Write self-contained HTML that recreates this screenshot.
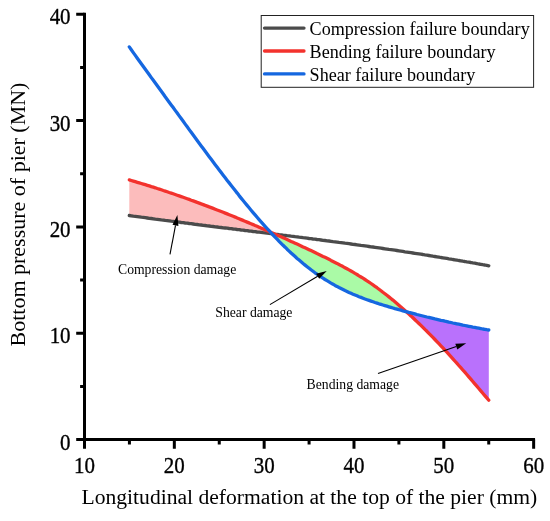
<!DOCTYPE html>
<html><head><meta charset="utf-8"><title>Failure boundaries</title>
<style>
html,body{margin:0;padding:0;background:#fff;}
svg{display:block;}
text{font-family:"Liberation Serif",serif;fill:#000;}
</style></head><body>
<svg width="550" height="521" viewBox="0 0 550 521">
<rect width="550" height="521" fill="#fff"/>
<path d="M129.3,179.9 L131.1,180.5 L133.0,181.0 L134.8,181.5 L136.7,182.1 L138.5,182.6 L140.4,183.2 L142.2,183.8 L144.1,184.3 L145.9,184.9 L147.8,185.5 L149.6,186.0 L151.4,186.6 L153.3,187.2 L155.1,187.8 L157.0,188.4 L158.8,189.0 L160.7,189.6 L162.5,190.2 L164.4,190.8 L166.2,191.4 L168.1,192.1 L169.9,192.7 L171.8,193.3 L173.6,193.9 L175.4,194.6 L177.3,195.2 L179.1,195.9 L181.0,196.5 L182.8,197.2 L184.7,197.8 L186.5,198.5 L188.4,199.1 L190.2,199.8 L192.1,200.5 L193.9,201.1 L195.7,201.8 L197.6,202.5 L199.4,203.2 L201.3,203.9 L203.1,204.6 L205.0,205.3 L206.8,206.0 L208.7,206.7 L210.5,207.4 L212.4,208.1 L214.2,208.8 L216.0,209.5 L217.9,210.2 L219.7,211.0 L221.6,211.7 L223.4,212.4 L225.3,213.2 L227.1,213.9 L229.0,214.6 L230.8,215.4 L232.7,216.1 L234.5,216.9 L236.3,217.6 L238.2,218.4 L240.0,219.2 L241.9,219.9 L243.7,220.7 L245.6,221.5 L247.4,222.2 L249.3,223.0 L251.1,223.8 L253.0,224.6 L254.8,225.4 L256.7,226.1 L258.5,226.9 L260.3,227.7 L262.2,228.5 L264.0,229.3 L265.9,230.1 L267.7,230.9 L269.6,231.7 L271.4,232.5 L273.3,233.4 L275.1,234.2 L275.1,234.2 L273.3,233.9 L271.4,233.7 L269.6,233.5 L267.7,233.3 L265.9,233.0 L264.0,232.8 L262.2,232.6 L260.3,232.3 L258.5,232.1 L256.7,231.9 L254.8,231.7 L253.0,231.4 L251.1,231.2 L249.3,231.0 L247.4,230.8 L245.6,230.5 L243.7,230.3 L241.9,230.1 L240.0,229.8 L238.2,229.6 L236.3,229.4 L234.5,229.2 L232.7,228.9 L230.8,228.7 L229.0,228.5 L227.1,228.2 L225.3,228.0 L223.4,227.8 L221.6,227.6 L219.7,227.3 L217.9,227.1 L216.0,226.9 L214.2,226.6 L212.4,226.4 L210.5,226.2 L208.7,225.9 L206.8,225.7 L205.0,225.5 L203.1,225.3 L201.3,225.0 L199.4,224.8 L197.6,224.6 L195.7,224.3 L193.9,224.1 L192.1,223.8 L190.2,223.6 L188.4,223.4 L186.5,223.1 L184.7,222.9 L182.8,222.7 L181.0,222.4 L179.1,222.2 L177.3,222.0 L175.4,221.7 L173.6,221.5 L171.8,221.2 L169.9,221.0 L168.1,220.8 L166.2,220.5 L164.4,220.3 L162.5,220.0 L160.7,219.8 L158.8,219.5 L157.0,219.3 L155.1,219.0 L153.3,218.8 L151.4,218.5 L149.6,218.3 L147.8,218.0 L145.9,217.8 L144.1,217.5 L142.2,217.3 L140.4,217.0 L138.5,216.8 L136.7,216.5 L134.8,216.3 L133.0,216.0 L131.1,215.8 L129.3,215.5Z" fill="#fcbcbc"/>
<path d="M270.4,232.1 L272.1,232.8 L273.8,233.6 L275.5,234.4 L277.2,235.1 L279.0,235.9 L280.7,236.7 L282.4,237.4 L284.1,238.2 L285.8,239.0 L287.6,239.8 L289.3,240.5 L291.0,241.3 L292.7,242.1 L294.4,242.9 L296.2,243.7 L297.9,244.5 L299.6,245.3 L301.3,246.1 L303.0,246.8 L304.8,247.6 L306.5,248.4 L308.2,249.3 L309.9,250.1 L311.6,250.9 L313.4,251.7 L315.1,252.5 L316.8,253.3 L318.5,254.2 L320.2,255.0 L322.0,255.8 L323.7,256.7 L325.4,257.5 L327.1,258.4 L328.8,259.3 L330.6,260.1 L332.3,261.0 L334.0,261.9 L335.7,262.8 L337.4,263.7 L339.2,264.6 L340.9,265.5 L342.6,266.4 L344.3,267.3 L346.0,268.3 L347.8,269.2 L349.5,270.2 L351.2,271.2 L352.9,272.2 L354.6,273.2 L356.4,274.2 L358.1,275.2 L359.8,276.3 L361.5,277.3 L363.2,278.4 L365.0,279.5 L366.7,280.6 L368.4,281.8 L370.1,282.9 L371.8,284.1 L373.6,285.3 L375.3,286.5 L377.0,287.8 L378.7,289.0 L380.4,290.3 L382.2,291.6 L383.9,292.9 L385.6,294.3 L387.3,295.6 L389.0,297.0 L390.8,298.4 L392.5,299.8 L394.2,301.2 L395.9,302.6 L397.7,304.1 L399.4,305.6 L401.1,307.1 L402.8,308.6 L404.5,310.1 L406.3,311.7 L406.3,311.7 L404.5,311.2 L402.8,310.7 L401.1,310.3 L399.4,309.8 L397.7,309.3 L395.9,308.8 L394.2,308.4 L392.5,307.9 L390.8,307.4 L389.0,306.9 L387.3,306.4 L385.6,305.8 L383.9,305.3 L382.2,304.8 L380.4,304.3 L378.7,303.7 L377.0,303.2 L375.3,302.6 L373.6,302.0 L371.8,301.4 L370.1,300.8 L368.4,300.2 L366.7,299.6 L365.0,299.0 L363.2,298.3 L361.5,297.7 L359.8,297.0 L358.1,296.3 L356.4,295.6 L354.6,294.9 L352.9,294.1 L351.2,293.4 L349.5,292.6 L347.8,291.8 L346.0,291.0 L344.3,290.2 L342.6,289.3 L340.9,288.5 L339.2,287.6 L337.4,286.7 L335.7,285.7 L334.0,284.8 L332.3,283.8 L330.6,282.8 L328.8,281.8 L327.1,280.8 L325.4,279.7 L323.7,278.6 L322.0,277.5 L320.2,276.4 L318.5,275.2 L316.8,274.0 L315.1,272.8 L313.4,271.5 L311.6,270.3 L309.9,269.0 L308.2,267.6 L306.5,266.3 L304.8,264.9 L303.0,263.5 L301.3,262.0 L299.6,260.6 L297.9,259.1 L296.2,257.6 L294.4,256.0 L292.7,254.5 L291.0,252.9 L289.3,251.3 L287.6,249.6 L285.8,248.0 L284.1,246.3 L282.4,244.6 L280.7,242.9 L279.0,241.1 L277.2,239.4 L275.5,237.6 L273.8,235.8 L272.1,233.9 L270.4,232.1Z" fill="#aafaa6"/>
<path d="M406.3,311.7 L407.3,311.9 L408.3,312.2 L409.4,312.5 L410.4,312.8 L411.5,313.0 L412.5,313.3 L413.6,313.6 L414.6,313.9 L415.7,314.1 L416.7,314.4 L417.7,314.7 L418.8,314.9 L419.8,315.2 L420.9,315.5 L421.9,315.7 L423.0,316.0 L424.0,316.2 L425.1,316.5 L426.1,316.8 L427.1,317.0 L428.2,317.3 L429.2,317.5 L430.3,317.8 L431.3,318.0 L432.4,318.3 L433.4,318.5 L434.5,318.8 L435.5,319.0 L436.6,319.3 L437.6,319.5 L438.6,319.8 L439.7,320.0 L440.7,320.2 L441.8,320.5 L442.8,320.7 L443.9,321.0 L444.9,321.2 L446.0,321.4 L447.0,321.7 L448.0,321.9 L449.1,322.1 L450.1,322.4 L451.2,322.6 L452.2,322.8 L453.3,323.0 L454.3,323.3 L455.4,323.5 L456.4,323.7 L457.5,323.9 L458.5,324.2 L459.5,324.4 L460.6,324.6 L461.6,324.8 L462.7,325.0 L463.7,325.2 L464.8,325.5 L465.8,325.7 L466.9,325.9 L467.9,326.1 L468.9,326.3 L470.0,326.5 L471.0,326.7 L472.1,326.9 L473.1,327.1 L474.2,327.3 L475.2,327.5 L476.3,327.7 L477.3,327.9 L478.4,328.1 L479.4,328.3 L480.4,328.5 L481.5,328.7 L482.5,328.9 L483.6,329.1 L484.6,329.3 L485.7,329.5 L486.7,329.7 L487.8,329.9 L488.8,330.0 L488.8,400.3 L487.8,399.1 L486.7,397.8 L485.7,396.6 L484.6,395.3 L483.6,394.1 L482.5,392.9 L481.5,391.6 L480.4,390.4 L479.4,389.2 L478.4,387.9 L477.3,386.7 L476.3,385.5 L475.2,384.3 L474.2,383.0 L473.1,381.8 L472.1,380.6 L471.0,379.4 L470.0,378.2 L468.9,377.0 L467.9,375.8 L466.9,374.6 L465.8,373.4 L464.8,372.2 L463.7,371.0 L462.7,369.8 L461.6,368.6 L460.6,367.4 L459.5,366.2 L458.5,365.1 L457.5,363.9 L456.4,362.7 L455.4,361.6 L454.3,360.4 L453.3,359.2 L452.2,358.1 L451.2,356.9 L450.1,355.8 L449.1,354.7 L448.0,353.5 L447.0,352.4 L446.0,351.2 L444.9,350.1 L443.9,349.0 L442.8,347.9 L441.8,346.8 L440.7,345.7 L439.7,344.5 L438.6,343.4 L437.6,342.3 L436.6,341.3 L435.5,340.2 L434.5,339.1 L433.4,338.0 L432.4,336.9 L431.3,335.9 L430.3,334.8 L429.2,333.7 L428.2,332.7 L427.1,331.6 L426.1,330.6 L425.1,329.5 L424.0,328.5 L423.0,327.5 L421.9,326.4 L420.9,325.4 L419.8,324.4 L418.8,323.4 L417.7,322.4 L416.7,321.4 L415.7,320.4 L414.6,319.4 L413.6,318.4 L412.5,317.4 L411.5,316.4 L410.4,315.5 L409.4,314.5 L408.3,313.6 L407.3,312.6 L406.3,311.7Z" fill="#b971fc"/>
<g fill="none" stroke-linecap="round" stroke-linejoin="round">
<path d="M129.3,215.5 L131.3,215.8 L133.3,216.1 L135.3,216.3 L137.3,216.6 L139.3,216.9 L141.3,217.2 L143.3,217.4 L145.3,217.7 L147.3,218.0 L149.3,218.3 L151.3,218.5 L153.3,218.8 L155.3,219.1 L157.3,219.3 L159.3,219.6 L161.3,219.9 L163.3,220.1 L165.2,220.4 L167.2,220.6 L169.2,220.9 L171.2,221.2 L173.2,221.4 L175.2,221.7 L177.2,221.9 L179.2,222.2 L181.2,222.5 L183.2,222.7 L185.2,223.0 L187.2,223.2 L189.2,223.5 L191.2,223.7 L193.2,224.0 L195.2,224.3 L197.2,224.5 L199.2,224.8 L201.2,225.0 L203.2,225.3 L205.2,225.5 L207.2,225.8 L209.2,226.0 L211.2,226.3 L213.2,226.5 L215.2,226.8 L217.2,227.0 L219.2,227.3 L221.2,227.5 L223.2,227.8 L225.2,228.0 L227.2,228.2 L229.2,228.5 L231.2,228.7 L233.2,229.0 L235.2,229.2 L237.2,229.5 L239.1,229.7 L241.1,230.0 L243.1,230.2 L245.1,230.5 L247.1,230.7 L249.1,231.0 L251.1,231.2 L253.1,231.5 L255.1,231.7 L257.1,232.0 L259.1,232.2 L261.1,232.4 L263.1,232.7 L265.1,232.9 L267.1,233.2 L269.1,233.4 L271.1,233.7 L273.1,233.9 L275.1,234.2 L277.1,234.4 L279.1,234.7 L281.1,234.9 L283.1,235.2 L285.1,235.4 L287.1,235.7 L289.1,235.9 L291.1,236.2 L293.1,236.4 L295.1,236.7 L297.1,236.9 L299.1,237.2 L301.1,237.4 L303.1,237.7 L305.1,237.9 L307.1,238.2 L309.1,238.5 L311.0,238.7 L313.0,239.0 L315.0,239.2 L317.0,239.5 L319.0,239.7 L321.0,240.0 L323.0,240.3 L325.0,240.5 L327.0,240.8 L329.0,241.0 L331.0,241.3 L333.0,241.6 L335.0,241.8 L337.0,242.1 L339.0,242.4 L341.0,242.6 L343.0,242.9 L345.0,243.2 L347.0,243.4 L349.0,243.7 L351.0,244.0 L353.0,244.3 L355.0,244.5 L357.0,244.8 L359.0,245.1 L361.0,245.4 L363.0,245.6 L365.0,245.9 L367.0,246.2 L369.0,246.5 L371.0,246.8 L373.0,247.0 L375.0,247.3 L377.0,247.6 L379.0,247.9 L381.0,248.2 L382.9,248.5 L384.9,248.8 L386.9,249.1 L388.9,249.4 L390.9,249.6 L392.9,249.9 L394.9,250.2 L396.9,250.5 L398.9,250.8 L400.9,251.1 L402.9,251.4 L404.9,251.8 L406.9,252.1 L408.9,252.4 L410.9,252.7 L412.9,253.0 L414.9,253.3 L416.9,253.6 L418.9,253.9 L420.9,254.2 L422.9,254.5 L424.9,254.9 L426.9,255.2 L428.9,255.5 L430.9,255.8 L432.9,256.2 L434.9,256.5 L436.9,256.8 L438.9,257.1 L440.9,257.5 L442.9,257.8 L444.9,258.1 L446.9,258.4 L448.9,258.8 L450.9,259.1 L452.9,259.5 L454.8,259.8 L456.8,260.1 L458.8,260.5 L460.8,260.8 L462.8,261.2 L464.8,261.5 L466.8,261.9 L468.8,262.2 L470.8,262.5 L472.8,262.9 L474.8,263.2 L476.8,263.6 L478.8,264.0 L480.8,264.3 L482.8,264.7 L484.8,265.0 L486.8,265.4 L488.8,265.8" stroke="#4b4b4b" stroke-width="3.3"/>
<path d="M129.3,179.9 L131.3,180.5 L133.3,181.1 L135.3,181.7 L137.3,182.3 L139.3,182.9 L141.3,183.5 L143.3,184.1 L145.3,184.7 L147.3,185.3 L149.3,185.9 L151.3,186.6 L153.3,187.2 L155.3,187.8 L157.3,188.5 L159.3,189.1 L161.3,189.8 L163.3,190.5 L165.2,191.1 L167.2,191.8 L169.2,192.5 L171.2,193.1 L173.2,193.8 L175.2,194.5 L177.2,195.2 L179.2,195.9 L181.2,196.6 L183.2,197.3 L185.2,198.0 L187.2,198.7 L189.2,199.4 L191.2,200.2 L193.2,200.9 L195.2,201.6 L197.2,202.4 L199.2,203.1 L201.2,203.9 L203.2,204.6 L205.2,205.4 L207.2,206.1 L209.2,206.9 L211.2,207.6 L213.2,208.4 L215.2,209.2 L217.2,210.0 L219.2,210.7 L221.2,211.5 L223.2,212.3 L225.2,213.1 L227.2,213.9 L229.2,214.7 L231.2,215.5 L233.2,216.3 L235.2,217.1 L237.2,218.0 L239.1,218.8 L241.1,219.6 L243.1,220.4 L245.1,221.3 L247.1,222.1 L249.1,222.9 L251.1,223.8 L253.1,224.6 L255.1,225.5 L257.1,226.3 L259.1,227.2 L261.1,228.1 L263.1,228.9 L265.1,229.8 L267.1,230.7 L269.1,231.5 L271.1,232.4 L273.1,233.3 L275.1,234.2 L277.1,235.1 L279.1,235.9 L281.1,236.8 L283.1,237.7 L285.1,238.6 L287.1,239.5 L289.1,240.4 L291.1,241.4 L293.1,242.3 L295.1,243.2 L297.1,244.1 L299.1,245.0 L301.1,245.9 L303.1,246.9 L305.1,247.8 L307.1,248.7 L309.1,249.7 L311.0,250.6 L313.0,251.5 L315.0,252.5 L317.0,253.5 L319.0,254.4 L321.0,255.4 L323.0,256.4 L325.0,257.3 L327.0,258.3 L329.0,259.3 L331.0,260.4 L333.0,261.4 L335.0,262.4 L337.0,263.4 L339.0,264.5 L341.0,265.6 L343.0,266.6 L345.0,267.7 L347.0,268.8 L349.0,269.9 L351.0,271.0 L353.0,272.2 L355.0,273.4 L357.0,274.5 L359.0,275.8 L361.0,277.0 L363.0,278.2 L365.0,279.5 L367.0,280.8 L369.0,282.1 L371.0,283.5 L373.0,284.9 L375.0,286.3 L377.0,287.7 L379.0,289.2 L381.0,290.7 L382.9,292.2 L384.9,293.7 L386.9,295.3 L388.9,296.9 L390.9,298.5 L392.9,300.1 L394.9,301.8 L396.9,303.5 L398.9,305.2 L400.9,306.9 L402.9,308.7 L404.9,310.5 L406.9,312.3 L408.9,314.1 L410.9,315.9 L412.9,317.8 L414.9,319.7 L416.9,321.6 L418.9,323.5 L420.9,325.4 L422.9,327.4 L424.9,329.4 L426.9,331.3 L428.9,333.4 L430.9,335.4 L432.9,337.4 L434.9,339.5 L436.9,341.6 L438.9,343.7 L440.9,345.8 L442.9,347.9 L444.9,350.1 L446.9,352.2 L448.9,354.4 L450.9,356.6 L452.9,358.8 L454.8,361.0 L456.8,363.2 L458.8,365.5 L460.8,367.7 L462.8,370.0 L464.8,372.2 L466.8,374.5 L468.8,376.8 L470.8,379.1 L472.8,381.5 L474.8,383.8 L476.8,386.1 L478.8,388.5 L480.8,390.8 L482.8,393.2 L484.8,395.6 L486.8,397.9 L488.8,400.3" stroke="#f3322d" stroke-width="3.3"/>
<path d="M129.3,46.9 L131.3,49.7 L133.3,52.6 L135.3,55.4 L137.3,58.2 L139.3,61.0 L141.3,63.7 L143.3,66.5 L145.3,69.3 L147.3,72.0 L149.3,74.8 L151.3,77.6 L153.3,80.3 L155.3,83.0 L157.3,85.8 L159.3,88.5 L161.3,91.2 L163.3,94.0 L165.2,96.7 L167.2,99.4 L169.2,102.2 L171.2,104.9 L173.2,107.6 L175.2,110.4 L177.2,113.1 L179.2,115.9 L181.2,118.6 L183.2,121.3 L185.2,124.1 L187.2,126.8 L189.2,129.6 L191.2,132.3 L193.2,135.0 L195.2,137.7 L197.2,140.5 L199.2,143.2 L201.2,145.9 L203.2,148.6 L205.2,151.3 L207.2,154.0 L209.2,156.7 L211.2,159.3 L213.2,162.0 L215.2,164.7 L217.2,167.3 L219.2,169.9 L221.2,172.6 L223.2,175.2 L225.2,177.8 L227.2,180.4 L229.2,182.9 L231.2,185.5 L233.2,188.0 L235.2,190.6 L237.2,193.1 L239.1,195.6 L241.1,198.1 L243.1,200.5 L245.1,203.0 L247.1,205.4 L249.1,207.8 L251.1,210.2 L253.1,212.6 L255.1,214.9 L257.1,217.3 L259.1,219.6 L261.1,221.8 L263.1,224.1 L265.1,226.3 L267.1,228.5 L269.1,230.7 L271.1,232.9 L273.1,235.0 L275.1,237.1 L277.1,239.2 L279.1,241.3 L281.1,243.3 L283.1,245.3 L285.1,247.2 L287.1,249.2 L289.1,251.1 L291.1,253.0 L293.1,254.8 L295.1,256.6 L297.1,258.4 L299.1,260.1 L301.1,261.8 L303.1,263.5 L305.1,265.1 L307.1,266.7 L309.1,268.3 L311.0,269.8 L313.0,271.3 L315.0,272.8 L317.0,274.2 L319.0,275.6 L321.0,276.9 L323.0,278.2 L325.0,279.5 L327.0,280.7 L329.0,281.9 L331.0,283.1 L333.0,284.2 L335.0,285.4 L337.0,286.4 L339.0,287.5 L341.0,288.5 L343.0,289.5 L345.0,290.5 L347.0,291.4 L349.0,292.4 L351.0,293.3 L353.0,294.2 L355.0,295.0 L357.0,295.8 L359.0,296.7 L361.0,297.4 L363.0,298.2 L365.0,299.0 L367.0,299.7 L369.0,300.4 L371.0,301.1 L373.0,301.8 L375.0,302.5 L377.0,303.1 L379.0,303.8 L381.0,304.4 L382.9,305.0 L384.9,305.6 L386.9,306.2 L388.9,306.8 L390.9,307.4 L392.9,308.0 L394.9,308.6 L396.9,309.1 L398.9,309.7 L400.9,310.2 L402.9,310.8 L404.9,311.3 L406.9,311.8 L408.9,312.4 L410.9,312.9 L412.9,313.4 L414.9,313.9 L416.9,314.5 L418.9,315.0 L420.9,315.5 L422.9,316.0 L424.9,316.5 L426.9,317.0 L428.9,317.4 L430.9,317.9 L432.9,318.4 L434.9,318.9 L436.9,319.3 L438.9,319.8 L440.9,320.3 L442.9,320.7 L444.9,321.2 L446.9,321.6 L448.9,322.1 L450.9,322.5 L452.9,323.0 L454.8,323.4 L456.8,323.8 L458.8,324.2 L460.8,324.6 L462.8,325.1 L464.8,325.5 L466.8,325.9 L468.8,326.3 L470.8,326.7 L472.8,327.1 L474.8,327.4 L476.8,327.8 L478.8,328.2 L480.8,328.6 L482.8,329.0 L484.8,329.3 L486.8,329.7 L488.8,330.0" stroke="#1567e0" stroke-width="3.3"/>
</g>
<g stroke="#000" stroke-width="3" fill="none">
<path d="M84.5,12.70 V441.1"/>
<path d="M83.0,439.6 H535.05"/>
<path d="M84.50,439.6 V448.7 M174.33,439.6 V448.7 M264.16,439.6 V448.7 M353.99,439.6 V448.7 M443.82,439.6 V448.7 M533.65,439.6 V448.7 M129.42,439.6 V444.4 M219.25,439.6 V444.4 M309.08,439.6 V444.4 M398.91,439.6 V444.4 M488.74,439.6 V444.4 M84.5,439.60 H76.2 M84.5,333.25 H76.2 M84.5,226.90 H76.2 M84.5,120.55 H76.2 M84.5,14.20 H76.2 M84.5,386.43 H80.1 M84.5,280.08 H80.1 M84.5,173.73 H80.1 M84.5,67.38 H80.1" stroke-width="3"/>
</g>
<g font-size="23.7" stroke="#000" stroke-width="0.35"><text transform="translate(84.5,473.1) scale(0.885,1)" text-anchor="middle">10</text><text transform="translate(174.3,473.1) scale(0.885,1)" text-anchor="middle">20</text><text transform="translate(264.2,473.1) scale(0.885,1)" text-anchor="middle">30</text><text transform="translate(354.0,473.1) scale(0.885,1)" text-anchor="middle">40</text><text transform="translate(443.8,473.1) scale(0.885,1)" text-anchor="middle">50</text><text transform="translate(533.7,473.1) scale(0.885,1)" text-anchor="middle">60</text><text transform="translate(70.6,449.5) scale(0.885,1)" text-anchor="end">0</text><text transform="translate(70.6,343.1) scale(0.885,1)" text-anchor="end">10</text><text transform="translate(70.6,236.8) scale(0.885,1)" text-anchor="end">20</text><text transform="translate(70.6,130.5) scale(0.885,1)" text-anchor="end">30</text><text transform="translate(70.6,24.1) scale(0.885,1)" text-anchor="end">40</text></g>
<text x="81.5" y="504.4" font-size="21.6">Longitudinal deformation at the top of the pier (mm)</text>
<text transform="translate(24.8,346.5) rotate(-90)" font-size="22">Bottom pressure of pier (MN)</text>
<rect x="261.2" y="15.5" width="272.4" height="71.8" fill="#fff" stroke="#222" stroke-width="1"/>
<g stroke-width="3.3" stroke-linecap="round">
<line x1="264.5" y1="28.1" x2="304" y2="28.1" stroke="#4b4b4b"/>
<line x1="264.5" y1="51" x2="304" y2="51" stroke="#f3322d"/>
<line x1="264.5" y1="73.9" x2="304" y2="73.9" stroke="#1567e0"/>
</g>
<g font-size="18.1">
<text x="309.6" y="34.9">Compression failure boundary</text>
<text x="309.6" y="57.8">Bending failure boundary</text>
<text x="309.6" y="80.7">Shear failure boundary</text>
</g>
<line x1="170.0" y1="254.3" x2="175.5" y2="225.3" stroke="#000" stroke-width="1.1"/><polygon points="177.4,215.0 178.4,225.9 172.5,224.8" fill="#000"/><line x1="269.9" y1="304.6" x2="317.7" y2="276.3" stroke="#000" stroke-width="1.1"/><polygon points="326.7,270.9 319.2,278.8 316.1,273.7" fill="#000"/><line x1="378.0" y1="373.6" x2="456.3" y2="346.6" stroke="#000" stroke-width="1.1"/><polygon points="466.2,343.2 457.3,349.5 455.3,343.8" fill="#000"/>
<g font-size="13.7">
<text x="118" y="273.5">Compression damage</text>
<text x="215.3" y="317.2">Shear damage</text>
<text x="306.6" y="389.1">Bending damage</text>
</g>
</svg>
</body></html>
